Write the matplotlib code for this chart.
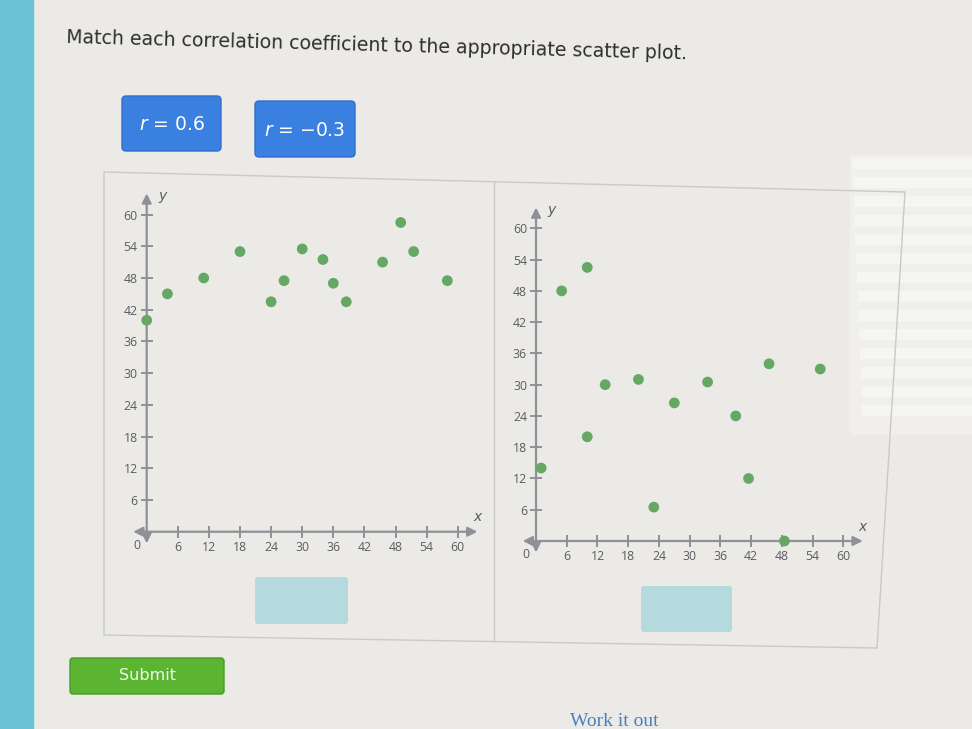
import matplotlib
matplotlib.use("Agg")
import matplotlib.pyplot as plt
from matplotlib.patches import FancyBboxPatch, Rectangle, Polygon

# ---------------- data ----------------
ticks = [6, 12, 18, 24, 30, 36, 42, 48, 54, 60]
tick_labels = [str(t) for t in ticks]

left_x = [0, 4, 11, 18, 24, 26.5, 30, 34, 36, 38.5, 45.5, 49, 51.5, 58]
left_y = [40, 45, 48, 53, 43.5, 47.5, 53.5, 51.5, 47, 43.5, 51, 58.5, 53, 47.5]

right_x = [1, 5, 10, 10, 13.5, 20, 23, 27, 33.5, 39, 41.5, 45.5, 48.5, 55.5]
right_y = [14, 48, 52.5, 20, 30, 31, 6.5, 26.5, 30.5, 24, 12, 34, 0, 33]

button_labels = [r"$r$ = 0.6", r"$r$ = −0.3"]

# ---------------- figure ----------------
W, H = 972, 729
fig = plt.figure(figsize=(W / 100, H / 100), dpi=100)
fig.patch.set_facecolor("#e6e5e1")

bg = fig.add_axes([0, 0, 1, 1])
bg.set_xlim(0, W)
bg.set_ylim(H, 0)
bg.axis("off")

# left cyan strip
bg.add_patch(Rectangle((0, 0), 33, H, color="#6ac3d5", zorder=1))
# page
bg.add_patch(Rectangle((33, 0), W - 33, H, color="#ebeae6", zorder=0.5))
# window blind reflection
bg.add_patch(Rectangle((850, 155), 122, 280, color="white", alpha=0.25,
                       lw=0, zorder=1))
for i in range(14):
    yy = 158 + i * 19
    bg.add_patch(Rectangle((852 + i * 0.8, yy), 125, 11, color="white",
                           alpha=0.4, lw=0, zorder=1))

# title
bg.text(66, 38, "Match each correlation coefficient to the appropriate scatter plot.",
        fontsize=13.6, color="#2f2f2f", family="DejaVu Sans", va="center",
        ha="left", rotation=-1.5, rotation_mode="anchor", zorder=3)

# coefficient buttons
btns = [(122, 96, 99, 55), (255, 101, 100, 56)]
for (bx, by, bw, bh), lab in zip(btns, button_labels):
    bg.add_patch(FancyBboxPatch((bx, by), bw, bh,
                                boxstyle="round,pad=0,rounding_size=4",
                                fc="#3a80e0", ec="#2f6fcc", lw=1, zorder=3))
    bg.text(bx + bw / 2, by + bh / 2 + 1, lab, color="white", fontsize=13.5,
            ha="center", va="center", family="DejaVu Sans", zorder=4)

# panel borders
bg.add_patch(Polygon([(104, 172), (905, 192), (877, 648), (104, 635)],
                     closed=True, fill=False, ec="#c9c9c6", lw=1, zorder=2))
bg.plot([494, 494], [182, 641], color="#c9c9c6", lw=1, zorder=2)

# drop targets
for (bx, by, bw, bh) in [(255, 577, 93, 47), (641, 586, 91, 46)]:
    bg.add_patch(FancyBboxPatch((bx, by), bw, bh,
                                boxstyle="round,pad=0,rounding_size=3",
                                fc="#b5dadd", ec="none", zorder=3))

# submit button
bg.add_patch(FancyBboxPatch((70, 658), 154, 36,
                            boxstyle="round,pad=0,rounding_size=3",
                            fc="#5cb532", ec="#4a9a26", lw=1, zorder=3))
bg.text(147, 676, "Submit", color="#eef6e6", fontsize=11.5, ha="center",
        va="center", family="DejaVu Sans", zorder=4)

# work it out
bg.text(614, 722, "Work it out", color="#4a7fc0", fontsize=14, ha="center",
        va="center", family="Liberation Serif", zorder=4)

# ---------------- scatter plots ----------------
axis_col = "#8e9197"
dot_col = "#65a866"


def make_plot(rect, xs, ys):
    ax = fig.add_axes(rect)
    ax.set_facecolor("none")
    ax.set_xlim(-4, 66)
    ax.set_ylim(-4, 66)
    for s in ["top", "right"]:
        ax.spines[s].set_visible(False)
    ax.spines["left"].set_position(("data", 0))
    ax.spines["bottom"].set_position(("data", 0))
    ax.spines["left"].set_visible(False)
    ax.spines["bottom"].set_visible(False)
    ax.annotate("", xy=(63.8, 0), xytext=(-2.6, 0),
                arrowprops=dict(arrowstyle="<|-|>", color=axis_col, lw=1.6,
                                mutation_scale=14, shrinkA=0, shrinkB=0))
    ax.annotate("", xy=(0, 64), xytext=(0, -2.2),
                arrowprops=dict(arrowstyle="<|-|>", color=axis_col, lw=1.6,
                                mutation_scale=14, shrinkA=0, shrinkB=0))
    ax.set_xticks(ticks)
    ax.set_xticklabels(tick_labels)
    ax.set_yticks(ticks)
    ax.set_yticklabels(tick_labels)
    ax.tick_params(direction="inout", length=9, width=1.4, color=axis_col,
                   labelcolor="#5a5c61", labelsize=8.8, pad=2)
    for lab in ax.get_xticklabels() + ax.get_yticklabels():
        lab.set_family("Open Sans")
    ax.text(-1.3, -1.4, "0", ha="right", va="top", fontsize=8.8,
            color="#5a5c61", family="Open Sans")
    ax.text(63.8, 1.4, "x", ha="center", va="bottom", fontsize=10,
            style="italic", color="#5a5c61", family="DejaVu Sans")
    ax.text(2.2, 63.6, "y", ha="left", va="center", fontsize=10,
            style="italic", color="#5a5c61", family="DejaVu Sans")
    ax.scatter(xs, ys, s=60, color=dot_col, zorder=5, clip_on=False,
               edgecolors="none")
    return ax


make_plot([0.1296, 0.2416, 0.3733, 0.5076], left_x, left_y)
make_plot([0.5304, 0.2293, 0.3688, 0.5004], right_x, right_y)

fig.savefig("out.png", dpi=100, facecolor=fig.get_facecolor())
